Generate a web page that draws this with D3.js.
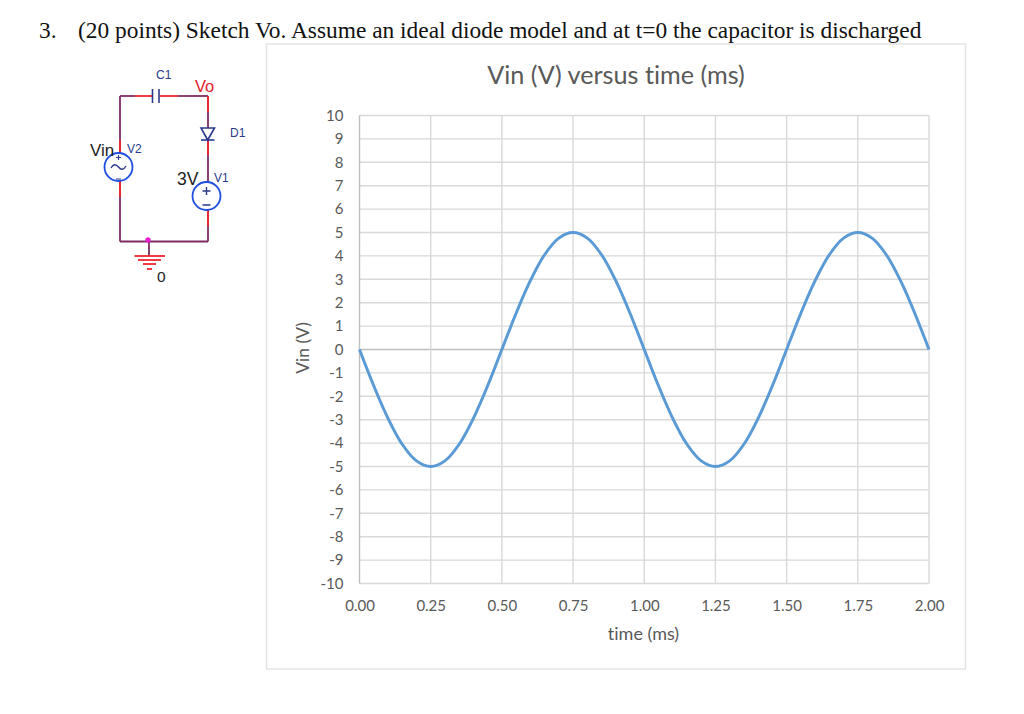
<!DOCTYPE html>
<html>
<head>
<meta charset="utf-8">
<script src="https://cdnjs.cloudflare.com/ajax/libs/d3/7.8.5/d3.min.js"></script>
<style>
  html, body { margin: 0; padding: 0; background: #fff; }
  svg { display: block; }
  .chart text { font-family: Lato, "Open Sans", sans-serif; fill: #595959; font-variant-ligatures: none; }
  .schem text { font-family: "Liberation Sans", Arial, sans-serif; }
</style>
</head>
<body>
<svg id="page" width="1024" height="714"></svg>
<script>
// values
const timeMs = [0, 0.05, 0.1, 0.15, 0.2, 0.25, 0.3, 0.35, 0.4, 0.45, 0.5, 0.55, 0.6, 0.65, 0.7, 0.75, 0.8, 0.85, 0.9, 0.95, 1,
  1.05, 1.1, 1.15, 1.2, 1.25, 1.3, 1.35, 1.4, 1.45, 1.5, 1.55, 1.6, 1.65, 1.7, 1.75, 1.8, 1.85, 1.9, 1.95, 2];
const vin = [0, -1.55, -2.94, -4.05, -4.76, -5, -4.76, -4.05, -2.94, -1.55, 0, 1.55, 2.94, 4.05, 4.76, 5, 4.76, 4.05, 2.94, 1.55, 0,
  -1.55, -2.94, -4.05, -4.76, -5, -4.76, -4.05, -2.94, -1.55, 0, 1.55, 2.94, 4.05, 4.76, 5, 4.76, 4.05, 2.94, 1.55, 0];
const xTicks = [0, 0.25, 0.5, 0.75, 1, 1.25, 1.5, 1.75, 2];
const yTicks = [10, 9, 8, 7, 6, 5, 4, 3, 2, 1, 0, -1, -2, -3, -4, -5, -6, -7, -8, -9, -10];

const svg = d3.select("#page");

// question line
const q = svg.append("g").style("font-family", "'Liberation Serif', 'Times New Roman', serif").style("font-size", "23.4px").attr("fill", "#111");
q.append("text").attr("x", 39).attr("y", 38).text("3.");
q.append("text").attr("x", 78).attr("y", 38).text("(20 points) Sketch Vo. Assume an ideal diode model and at t=0 the capacitor is discharged");

// chart frame
const chart = svg.append("g").attr("class", "chart");
chart.append("rect").attr("x", 266.5).attr("y", 44).attr("width", 699).attr("height", 625)
  .attr("fill", "#fff").attr("stroke", "#e4e4e4").attr("stroke-width", 1.5);

const x = d3.scaleLinear().domain([0, 2]).range([359.5, 929]);
const y = d3.scaleLinear().domain([-10, 10]).range([583.5, 115.5]);

// gridlines
chart.append("g").selectAll("line").data(yTicks).join("line")
  .attr("x1", x(0)).attr("x2", x(2)).attr("y1", d => y(d)).attr("y2", d => y(d))
  .attr("stroke", d => d === 0 ? "#bfbfbf" : "#d9d9d9").attr("stroke-width", 1.4);
chart.append("g").selectAll("line").data(xTicks).join("line")
  .attr("x1", d => x(d)).attr("x2", d => x(d)).attr("y1", y(10)).attr("y2", y(-10))
  .attr("stroke", d => d === 0 ? "#bfbfbf" : "#d9d9d9").attr("stroke-width", 1.4);

// axes, only the labels are kept
const yAxis = chart.append("g").attr("transform", `translate(${x(0)},0)`)
  .call(d3.axisLeft(y).tickValues(yTicks).tickFormat(d => String(d)).tickSize(0).tickPadding(16));
const xAxis = chart.append("g").attr("transform", `translate(0,${y(-10)})`)
  .call(d3.axisBottom(x).tickValues(xTicks).tickFormat(d3.format(".2f")).tickSize(0).tickPadding(17));
yAxis.select(".domain").remove();
xAxis.select(".domain").remove();
chart.selectAll(".tick text").style("font-family", "Lato, 'Open Sans', sans-serif").style("font-size", "15px").attr("fill", "#595959");

// series
const line = d3.line().x((d, i) => x(timeMs[i])).y(d => y(d)).curve(d3.curveCatmullRom);
chart.append("path").datum(vin).attr("d", line)
  .attr("fill", "none").attr("stroke", "#5b9bd5").attr("stroke-width", 3).attr("stroke-linejoin", "round");

// titles
chart.append("text").attr("x", 616).attr("y", 84).attr("text-anchor", "middle").style("font-size", "25.2px").text("Vin (V) versus time (ms)");
chart.append("text").attr("x", 643.5).attr("y", 640).attr("text-anchor", "middle").style("font-size", "18px").text("time (ms)");
chart.append("text").attr("transform", "translate(309,348) rotate(-90)").attr("text-anchor", "middle").style("font-size", "17.5px").text("Vin (V)");

/* schematic */
const s = svg.append("g").attr("class", "schem").attr("fill", "none");
const purple = "#7b2d63", red = "#f0282d", blue = "#1f4fe0", navy = "#2a3a8c";
function wire(x1, y1, x2, y2, c) {
  s.append("line").attr("x1", x1).attr("y1", y1).attr("x2", x2).attr("y2", y2).attr("stroke", c || purple).attr("stroke-width", 1.8);
}
wire(120, 96, 135, 96); wire(120, 96, 120, 153); wire(120, 181, 120, 241.5); wire(120, 241.5, 208, 241.5);
wire(178, 96, 208, 96); wire(208, 96, 208, 128); wire(208, 140, 208, 182); wire(208, 210, 208, 241.5);
wire(135, 96, 152.5, 96, red); wire(159.5, 96, 178, 96, red);
wire(120, 181, 120, 197, red); wire(120, 140, 120, 153, red);
wire(208, 210, 208, 226, red); wire(208, 96, 208, 112, red); wire(208, 140, 208, 155, red);
wire(149, 241.5, 149, 256);

// capacitor
s.append("line").attr("x1", 152.5).attr("x2", 152.5).attr("y1", 89).attr("y2", 103).attr("stroke", navy).attr("stroke-width", 1.6);
s.append("line").attr("x1", 159).attr("x2", 159).attr("y1", 89).attr("y2", 103).attr("stroke", navy).attr("stroke-width", 1.6);

// diode
s.append("path").attr("d", "M201,128 H214.5 L207.7,140 Z").attr("stroke", navy).attr("stroke-width", 1.6);
s.append("line").attr("x1", 201).attr("x2", 214.5).attr("y1", 140).attr("y2", 140).attr("stroke", navy).attr("stroke-width", 1.6);

// sources
s.append("circle").attr("cx", 118.5).attr("cy", 167).attr("r", 14).attr("fill", "#fff").attr("stroke", blue).attr("stroke-width", 1.8);
s.append("path").attr("d", "M111,168 q3.5,-6 7.5,-1 q4,5 7.5,-1").attr("stroke", navy).attr("stroke-width", 1.4);
s.append("circle").attr("cx", 206.5).attr("cy", 196).attr("r", 14).attr("fill", "#fff").attr("stroke", blue).attr("stroke-width", 1.8);
s.append("path").attr("d", "M202.5,191 h8 M206.5,187 v8 M202.5,205 h8").attr("stroke", navy).attr("stroke-width", 1.4);
s.append("path").attr("d", "M116,157.5 h5 M118.5,155 v5 M116,179 h5").attr("stroke", navy).attr("stroke-width", 1.2);

// ground
wire(134.5, 256, 165, 256, red); wire(138, 260, 161, 260, red); wire(143, 264, 156, 264, red); wire(147, 269, 152, 269, red);
s.append("circle").attr("cx", 148).attr("cy", 240).attr("r", 2.7).attr("fill", "#e81fd0");

// labels
const label = (t, lx, ly, size, c) => s.append("text").attr("x", lx).attr("y", ly).style("font-size", size + "px").attr("fill", c).text(t);
label("C1", 156, 79, 12, navy);
label("Vo", 195, 92, 16.5, "#e0202a");
label("D1", 230, 137, 12, navy);
label("V2", 127, 153, 12, navy);
label("V1", 214, 182, 12, navy);
label("Vin", 90, 156, 17, "#222");
label("3V", 177, 185, 17.5, "#222");
label("0", 157, 282, 15.5, "#222");
</script>
</body>
</html>
